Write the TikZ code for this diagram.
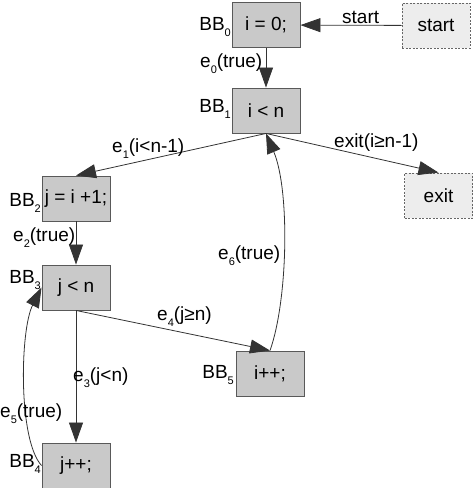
\documentclass[tikz,border=0pt]{standalone}
\usepackage{fontspec}
\setmainfont{Liberation Sans}
\usetikzlibrary{arrows.meta}
\newcommand{\mysub}[1]{\raisebox{-6pt}{\fontsize{11}{11}\selectfont #1}}
\begin{document}
\begin{tikzpicture}[x=1pt,y=-1pt,
  every node/.style={font=\fontsize{19}{21}\selectfont, text=black},
  box/.style={draw=black!65, line width=0.9pt, fill=black!21, minimum width=68pt, minimum height=45pt, inner sep=0pt},
  ext/.style={draw=black!60, dashed, dash pattern=on 2pt off 1.5pt, line width=0.9pt, fill=black!7, minimum width=68pt, minimum height=45pt, inner sep=0pt},
  lbl/.style={inner sep=0pt, anchor=base west},
  bbl/.style={inner sep=0pt, anchor=base east},
  edge/.style={draw=black!80, line width=0.8pt, -{Triangle[length=20pt,width=14pt]}}]
\useasboundingbox (0,0) rectangle (474,488);
% boxes
\node[box] (b0) at (266,25) {i = 0;};
\node[ext] (st) at (436,25.5) {start};
\node[box] (b1) at (266,110.5) {i < n};
\node[ext] (ex) at (438.5,195.5) {exit};
\node[box] (b2) at (76,198.5) {j = i +1;};
\node[box] (b3) at (76,287.5) {j < n};
\node[box] (b5) at (270,373.5) {i++;};
\node[box] (b4) at (76,465.5) {j++;};
% block labels
\node[bbl] (n0) at (231,30) {BB\mysub{0}};
\node[bbl] (n1) at (231,112) {BB\mysub{1}};
\node[bbl] (n2) at (41,206) {BB\mysub{2}};
\node[bbl] (n3) at (41,283) {BB\mysub{3}};
\node[bbl] (n4) at (41,467) {BB\mysub{4}};
\node[bbl] (n5) at (234,378) {BB\mysub{5}};
% edges
\draw[edge] (st) -- (b0);
\draw[edge] (b0) -- (b1);
\draw[edge] (b1.south) -- (b2.north);
\draw[edge] (b1.south) -- (ex.north);
\draw[edge] (b2) -- (b3);
\draw[edge] (b3) -- (b4);
\draw[edge] (b3.south) -- (b5.north);
\draw[edge] (b5.north) .. controls (288,300) and (290,190) .. (b1.south);
\draw[edge] (b4.west) .. controls (18,440) and (20,330) .. (b3.west);
% edge labels
\node[lbl] (ls) at (342,23) {start};
\node[lbl] (l0) at (200,67) {e\mysub{0}(true)};
\node[lbl] (l1) at (112,152) {e\mysub{1}(i<n-1)};
\node[lbl] (lx) at (334,147) {exit(i≥n-1)};
\node[lbl] (l2) at (13,241) {e\mysub{2}(true)};
\node[lbl] (l6) at (218,259) {e\mysub{6}(true)};
\node[lbl] (l4) at (157,320) {e\mysub{4}(j≥n)};
\node[lbl] (l3) at (73,381) {e\mysub{3}(j<n)};
\node[lbl] (l5) at (0,417) {e\mysub{5}(true)};
\end{tikzpicture}
\end{document}
